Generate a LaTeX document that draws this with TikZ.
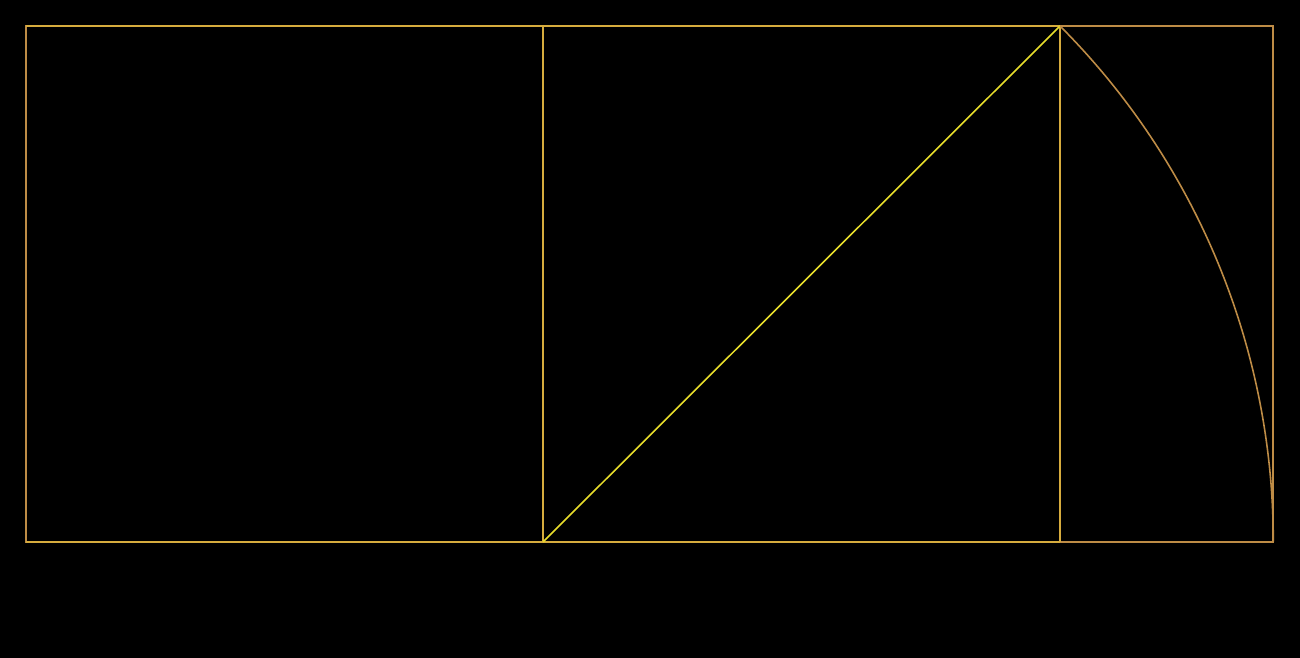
\documentclass[tikz,border=0pt]{standalone}
\usepackage{tikz}
\usetikzlibrary{positioning, calc}
\definecolor{goldline}{RGB}{214,172,62}
\definecolor{goldedge}{RGB}{190,140,70}
\definecolor{diagline}{RGB}{232,222,44}
\tikzset{
    frame/.style={draw=goldedge, line width=0.45pt},
    split/.style={draw=goldline, line width=0.45pt},
    diag/.style={draw=diagline, line width=0.45pt},
    arcline/.style={draw=goldedge, line width=0.45pt}
}

\begin{document}
\begin{tikzpicture}[x=0.01cm, y=-0.01cm]
            \fill[black] (0,0) rectangle (1300,658);
            \useasboundingbox (0,0) rectangle (1300,658);
            \coordinate (tl) at (26,26);
            \coordinate (br) at (1273,542);
            \coordinate (midbot) at (543,542);
            \coordinate (midtop) at (543,26);
            \coordinate (sqtop) at (1060,26);
            \coordinate (sqbot) at (1060,542);
            \draw[frame] (tl) rectangle (br);
            \draw[split] (tl) -- (sqtop);
            \draw[split] (26,542) -- (sqbot);
            \draw[split] (midtop) -- (midbot);
            \draw[split] (sqtop) -- (sqbot);
            \draw[diag] (midbot) -- (sqtop);
            \draw[arcline] (sqtop) arc[start angle=-44.94, end angle=0, radius=730];
        \end{tikzpicture}
\end{document}
